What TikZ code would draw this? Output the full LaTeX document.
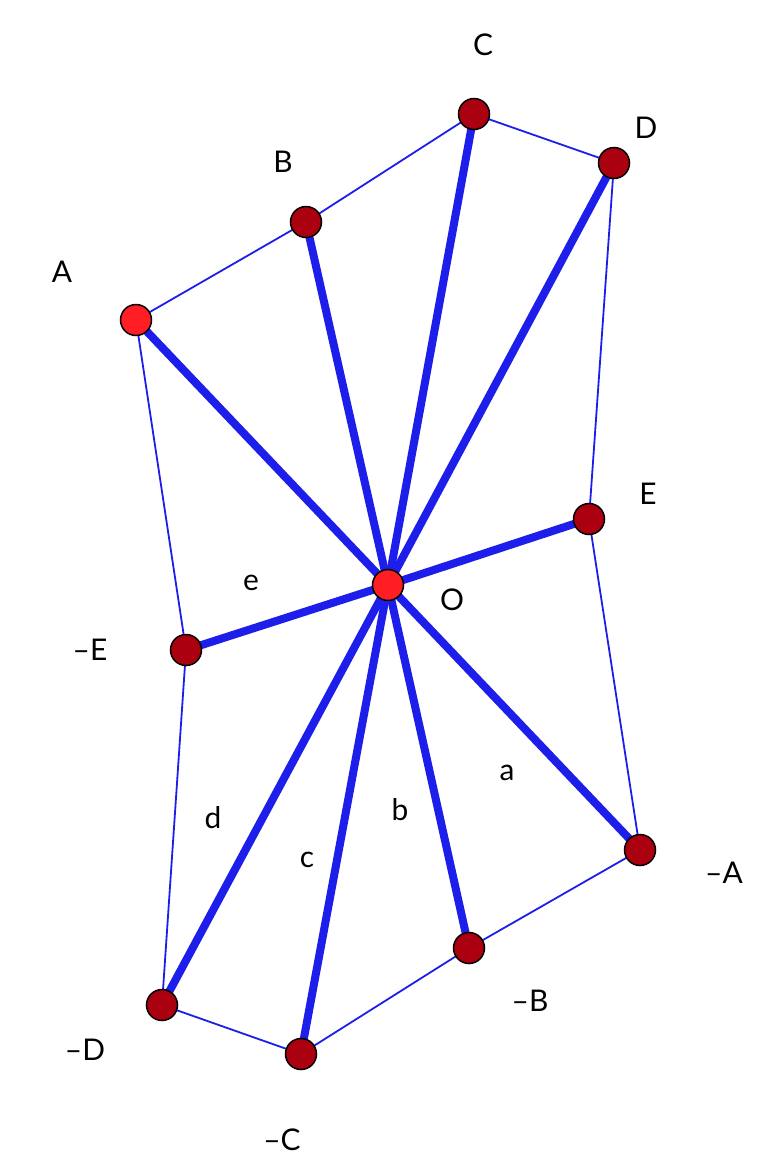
\documentclass[tikz,border=0pt]{standalone}
\usepackage{fontspec}
\setmainfont{Lato}
\definecolor{edgeblue}{RGB}{30,30,235}
\definecolor{darkdot}{RGB}{170,0,15}
\definecolor{brightdot}{RGB}{255,30,35}
\begin{document}
\begin{tikzpicture}[x=1bp,y=-1bp,
  dot/.style={circle,draw=black,line width=1.5bp,fill=darkdot,minimum size=31bp,inner sep=0pt},
  hot/.style={dot,fill=brightdot},
  spoke/.style={edgeblue,line width=8bp},
  rim/.style={edgeblue,line width=1.8bp},
  lbl/.style={font=\fontsize{30}{34}\selectfont}]
  \useasboundingbox (0,0) rectangle (768,1172);
  % points
  \coordinate (o) at (388,585);
  \coordinate (a) at (136,320);
  \coordinate (b) at (306,222);
  \coordinate (c) at (474,114);
  \coordinate (d) at (614,163);
  \coordinate (e) at (589,519);
  \coordinate (ne) at (186,650);
  \coordinate (na) at (640,850);
  \coordinate (nb) at (469,948);
  \coordinate (nc) at (301,1054);
  \coordinate (nd) at (162,1005);
  % outline
  \draw[rim] (a) -- (b) -- (c) -- (d) -- (e) -- (na) -- (nb) -- (nc) -- (nd) -- (ne) -- (a);
  % spokes
  \foreach \p in {a,b,c,d,e,na,nb,nc,nd,ne}
    \draw[spoke] (o) -- (\p);
  \foreach \p in {b,c,d,e,na,nb,nc,nd,ne}
    \node[dot] at (\p) {};
  \node[hot] at (a) {};
  \node[hot] at (o) {};
  % labels
  \node[lbl] (lo) at (452,600) {O};
  \node[lbl] (la) at (62,272) {A};
  \node[lbl] (lb) at (283,162) {B};
  \node[lbl] (lc) at (483,45) {C};
  \node[lbl] (ld) at (646,128) {D};
  \node[lbl] (le) at (648,494) {E};
  \node[lbl] (lne) at (90,650) {--E};
  \node[lbl] (lna) at (724,873) {--A};
  \node[lbl] (lnb) at (530,1001) {--B};
  \node[lbl] (lnc) at (282,1140) {--C};
  \node[lbl] (lnd) at (85,1050) {--D};
  \node[lbl] (sa) at (507,773) {a};
  \node[lbl] (sb) at (400,810) {b};
  \node[lbl] (sc) at (307,860) {c};
  \node[lbl] (sd) at (213,818) {d};
  \node[lbl] (se) at (251,583) {e};
\end{tikzpicture}
\end{document}
